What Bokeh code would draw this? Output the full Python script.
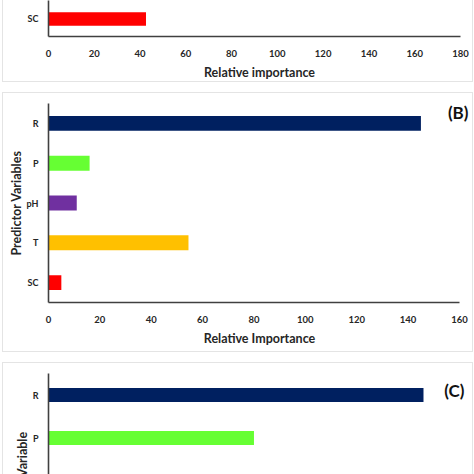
from bokeh.plotting import figure
from bokeh.layouts import column
from bokeh.models import Range1d, FixedTicker, Label
from bokeh.embed import file_html
from bokeh.resources import INLINE

# Panel A (only the bottom bar is visible in the crop)
a_vars = ["SC"]
a_vals = [42.6]
a_colors = ["#FF0000"]
a_xticks = [0, 20, 40, 60, 80, 100, 120, 140, 160, 180]

# Panel B
b_vars = ["SC", "T", "pH", "P", "R"]
b_vals = [5, 54.5, 11, 16, 145]
b_colors = ["#FF0000", "#FFC000", "#7030A0", "#66FF33", "#002060"]
b_xticks = [0, 20, 40, 60, 80, 100, 120, 140, 160]

# Panel C (only the top two bars are visible in the crop)
c_vars = ["SC", "T", "pH", "P", "R"]
c_shown = ["P", "R"]
c_vals = [80, 146]
c_colors = ["#66FF33", "#002060"]

FONT = "Lato"
AX = "#404040"
TXT = "#262626"
BORDER = "#e4e4e4"

FRAME_W = 420.0          # shared frame width (frames are aligned in the column)
A_END = 180 * FRAME_W / 410.0
B_END = 160 * FRAME_W / 409.0


def style(p, xticks, yticks, ynames, xtitle=None, ytitle=None, xmax=None):
    p.xaxis.ticker = FixedTicker(ticks=xticks)
    p.yaxis.ticker = FixedTicker(ticks=yticks)
    p.yaxis.major_label_overrides = {t: n for t, n in zip(yticks, ynames)}
    if xmax is not None:
        p.xaxis.bounds = (0, xmax)
    for ax in (p.xaxis[0], p.yaxis[0]):
        ax.axis_line_color = AX
        ax.axis_line_width = 1.6
        ax.major_tick_line_color = None
        ax.minor_tick_line_color = None
        ax.major_label_text_font = FONT
        ax.major_label_text_font_style = "bold"
        ax.major_label_text_color = TXT
        ax.axis_label_text_font = FONT
        ax.axis_label_text_font_style = "bold"
        ax.axis_label_text_color = TXT
    p.xaxis.major_label_text_font_size = "9.5px"
    p.yaxis.major_label_text_font_size = "9px"
    p.xaxis.major_label_standoff = 7
    p.yaxis.major_label_standoff = 4
    p.xaxis.axis_label_standoff = 5
    p.yaxis.axis_label_standoff = 0
    p.xaxis.axis_label_text_font_size = "12.5px"
    p.yaxis.axis_label_text_font_size = "12.5px"
    if xtitle:
        p.xaxis.axis_label = xtitle
    if ytitle:
        p.yaxis.axis_label = ytitle
    p.xgrid.visible = False
    p.ygrid.visible = False
    p.outline_line_color = None
    p.background_fill_color = "white"
    p.border_fill_color = "white"


# ---------- Panel A ----------
pA = figure(width=471, height=82, output_backend="svg", toolbar_location=None,
            x_range=Range1d(0, A_END), y_range=Range1d(-0.45, 0.475),
            min_border_left=45, min_border_right=4, min_border_top=0, min_border_bottom=45,
            styles={"border-left": f"1px solid {BORDER}", "border-right": f"1px solid {BORDER}",
                    "border-bottom": f"1px solid {BORDER}", "box-sizing": "border-box"})
pA.hbar(y=list(range(len(a_vars))), right=a_vals, left=0, height=0.35, color=a_colors, line_color=None)
style(pA, a_xticks, list(range(len(a_vars))), a_vars, xtitle="Relative importance", xmax=180)

# ---------- Panel B ----------
pB = figure(width=471, height=260, output_backend="svg", toolbar_location=None,
            x_range=Range1d(0, B_END), y_range=Range1d(-0.5, 4.5),
            min_border_left=45, min_border_right=4, min_border_top=10, min_border_bottom=51,
            styles={"border": f"1px solid {BORDER}", "box-sizing": "border-box"})
pB.hbar(y=list(range(len(b_vars))), right=b_vals, left=0, height=0.375, color=b_colors, line_color=None)
style(pB, b_xticks, list(range(len(b_vars))), b_vars, xtitle="Relative Importance",
      ytitle="Predictor Variables", xmax=160)
pB.add_layout(Label(x=160, y=4.27, x_offset=9, text="(B)", text_align="right", text_baseline="middle",
                    text_font=FONT, text_font_style="bold", text_font_size="17px", text_color="#111111"))

# ---------- Panel C ----------
pC = figure(width=471, height=276, output_backend="svg", toolbar_location=None,
            x_range=Range1d(0, B_END), y_range=Range1d(-0.5, 4.5),
            min_border_left=45, min_border_right=4, min_border_top=10, min_border_bottom=51,
            styles={"border": f"1px solid {BORDER}", "box-sizing": "border-box"})
c_pos = [c_vars.index(v) for v in c_shown]
pC.hbar(y=c_pos, right=c_vals, left=0, height=0.33, color=c_colors, line_color=None)
style(pC, b_xticks, c_pos, c_shown, ytitle="Predictor Variable", xmax=160)
pC.xaxis.visible = False   # lies below the visible crop
pC.add_layout(Label(x=160, y=4.10, x_offset=5, text="(C)", text_align="right", text_baseline="middle",
                    text_font=FONT, text_font_style="bold", text_font_size="17px", text_color="#111111"))

layout = column(pA, pB, pC, spacing=10, margin=(0, 0, 0, 2), height=474,
                styles={"overflow": "hidden"})

open("out.html", "w").write(file_html(layout, INLINE))
